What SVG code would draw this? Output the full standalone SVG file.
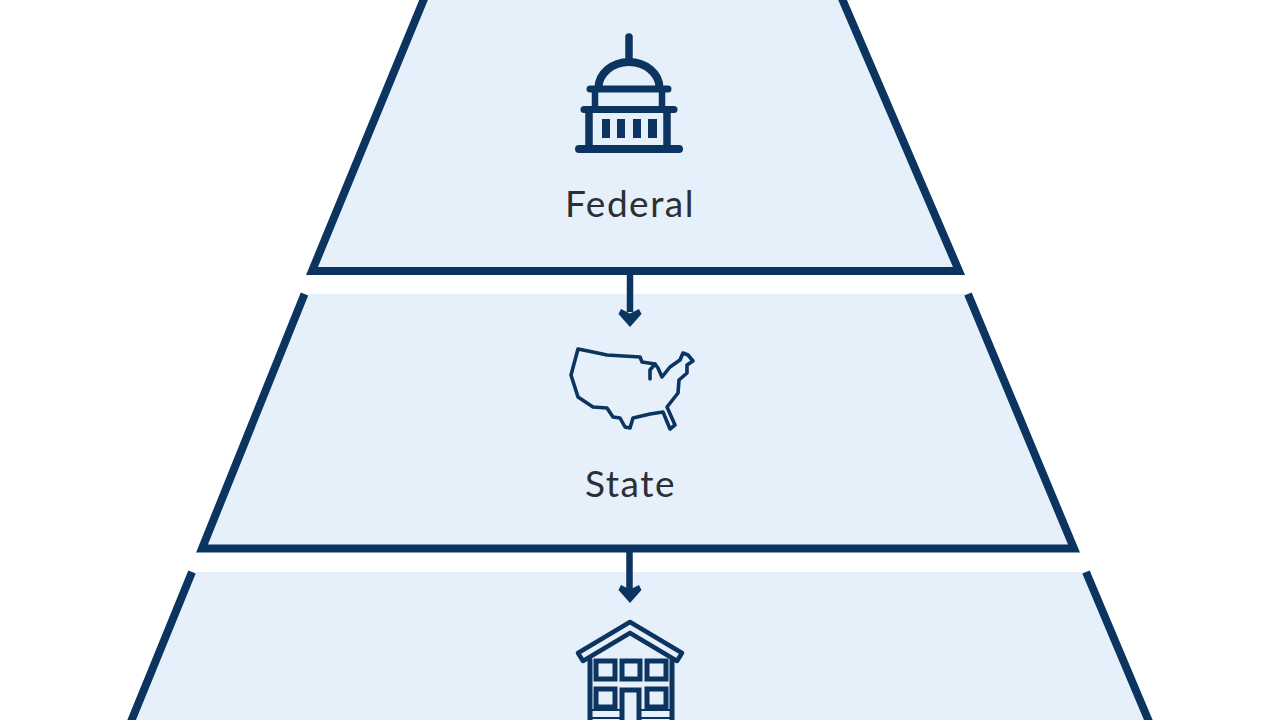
<svg xmlns="http://www.w3.org/2000/svg" width="1280" height="720" viewBox="0 0 1280 720">
<style>
.fill{fill:#e6f0fa;stroke:none}
.edge{fill:none;stroke:#0b3560;stroke-width:8;stroke-linejoin:miter;stroke-miterlimit:8}
.icon{fill:none;stroke:#0b3560;stroke-width:6;stroke-linecap:round;stroke-linejoin:round}
.thin{fill:none;stroke:#0b3560;stroke-width:3.6;stroke-linejoin:round;stroke-linecap:round}
.solid{fill:#0b3560;stroke:none}
.label{font-family:"Lato","Liberation Sans",sans-serif;font-size:37px;letter-spacing:1.5px;fill:#2b2f36;text-anchor:middle}
.conn{fill:none;stroke:#0b3560;stroke-width:6.500}
</style>
<rect width="1280" height="720" fill="#ffffff"/>
<g id="tier-federal">
<path class="fill" d="M425 0H841L960 272H311Z"/>
<path class="edge" d="M426 -6L312 271H959L840 -6"/>
<g id="icon-capitol">
<path class="icon" style="stroke-width:7.500" d="M629 37V58"/>
<path class="icon" style="stroke-width:8" d="M598.500 88A30.500 26 0 0 1 659.500 88"/>
<path class="icon" style="stroke-width:7" d="M590 89H668"/>
<path class="icon" style="stroke-width:6.500" d="M595 89V109M662 89V109"/>
<path class="icon" style="stroke-width:7" d="M584 109.500H674"/>
<path class="icon" style="stroke-width:7.500" d="M589 110V148M667 110V148"/>
<path class="solid" d="M602 119h8v19h-8zM617 119h8v19h-8zM633 119h8v19h-8zM648 119h9v19h-9z"/>
<path class="icon" style="stroke-width:8" d="M579 149H679"/>
</g>
<text class="label" x="630" y="217">Federal</text>
</g>
<g id="tier-state">
<path class="fill" d="M304 294H969L1078 551H198Z"/>
<path class="edge" d="M304.500 294L202 548.500H1074L968 294"/>
<g id="icon-map">
<path class="thin" d="M578 349L593 352Q600 353.500 607 355Q623.500 356 640 357Q641 359.500 642 362Q648.500 363 655 364Q656.500 366 658 368Q660 372.500 662 377Q666 372 670 367Q675 363.500 680 360Q681.500 356.500 683 353Q685.500 354 688 355Q690.500 358 693 361Q690 363 687 365Q687 369 687 373Q683 376.500 679 380Q678.500 386.500 678 393Q672.500 400 667 407Q671 416 675 425Q672.500 427 670 429Q666.500 420.500 663 412Q656.500 413 650 414Q641.500 416 633 418Q631.500 423 630 428Q627.500 427.500 625 427Q622.500 422.500 620 418Q616.500 417.500 613 417Q610 412.500 607 408Q600 407.500 593 407Q585.500 402 578 397Q574.500 386 571 375Z"/>
<path class="thin" d="M650 379L650 370L655 364"/>
</g>
<text class="label" x="630.500" y="497">State</text>
</g>
<g id="tier-local">
<path class="fill" d="M192 572H1086L1150 720H130Z"/>
<path class="edge" d="M192 572L130 724M1086 572L1150 724"/>
<g id="icon-house">
<path class="icon" style="stroke-width:4.500" d="M630 622L578 653L583 661L630 633L677 661L682 653Z"/>
<path class="icon" style="stroke-width:5" d="M590 660V724M672 660V724"/>
<path class="icon" style="stroke-width:5;stroke-linecap:butt;stroke-linejoin:miter" d="M596 661h19v18h-19zM622 661h18v18h-18zM647 661h19v18h-19zM596 689h19v18h-19zM647 689h19v18h-19z"/>
<path class="icon" style="stroke-width:5;stroke-linecap:butt;stroke-linejoin:miter" d="M622 724V690H639V724"/>
<path class="icon" style="stroke-width:2;stroke-linecap:butt" d="M592 710H620M641 710H670M592 718H620M641 718H670"/>
</g>
</g>
<g id="connectors">
<path class="conn" d="M630 275V312"/>
<path class="solid" d="M630 327L618.500 314L621 309L630 313.500L639 309L641.500 314Z"/>
<path class="conn" d="M629.500 552V590"/>
<path class="solid" d="M630 603L618.500 590L621 585L630 589.500L639 585L641.500 590Z"/>
</g>
</svg>
